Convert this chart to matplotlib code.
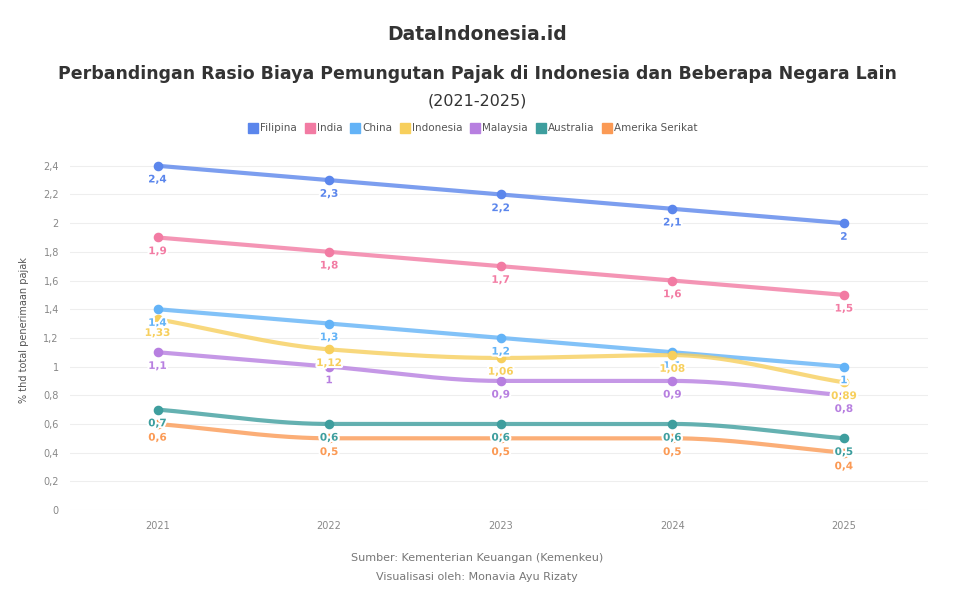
import matplotlib
matplotlib.use("Agg")
import matplotlib.pyplot as plt
import matplotlib.patheffects as pe
from matplotlib.lines import Line2D
import numpy as np

years = [2021, 2022, 2023, 2024, 2025]
names = ["Filipina", "India", "China", "Indonesia", "Malaysia", "Australia", "Amerika Serikat"]
filipina = [2.4, 2.3, 2.2, 2.1, 2.0]
india = [1.9, 1.8, 1.7, 1.6, 1.5]
china = [1.4, 1.3, 1.2, 1.1, 1.0]
indonesia = [1.33, 1.12, 1.06, 1.08, 0.89]
malaysia = [1.1, 1.0, 0.9, 0.9, 0.8]
australia = [0.7, 0.6, 0.6, 0.6, 0.5]
amerika = [0.6, 0.5, 0.5, 0.5, 0.4]
series = [filipina, india, china, indonesia, malaysia, australia, amerika]
colors = ["#5b86ec", "#f27ba3", "#63b3f7", "#f7cf5c", "#b77fe0", "#3e9e9e", "#fb9a55"]
yticks = [0, 0.2, 0.4, 0.6, 0.8, 1, 1.2, 1.4, 1.6, 1.8, 2, 2.2, 2.4]

def fmt(v):
    s = f"{v:.2f}".rstrip("0").rstrip(".")
    return s.replace(".", ",")

def pchip(x, y, n=200):
    x = np.asarray(x, float); y = np.asarray(y, float)
    h = np.diff(x); d = np.diff(y) / h
    m = np.zeros_like(y)
    m[0], m[-1] = d[0], d[-1]
    for i in range(1, len(y) - 1):
        if d[i-1] * d[i] > 0:
            m[i] = 2 / (1/d[i-1] + 1/d[i])
    xs = np.linspace(x[0], x[-1], n); ys = np.empty_like(xs)
    for j, xv in enumerate(xs):
        i = min(np.searchsorted(x, xv, side="right") - 1, len(x) - 2)
        t = (xv - x[i]) / h[i]
        ys[j] = ((2*t**3-3*t**2+1)*y[i] + (t**3-2*t**2+t)*h[i]*m[i]
                 + (-2*t**3+3*t**2)*y[i+1] + (t**3-t**2)*h[i]*m[i+1])
    return xs, ys

fig = plt.figure(figsize=(9.54, 5.96), dpi=100)
ax = fig.add_axes([70/954, 1-510/596, 858/954, (510-150)/596])
for name, vals, c in zip(names, series, colors):
    xs, ys = pchip(years, vals)
    ax.plot(xs, ys, color=c, lw=3, alpha=0.8, solid_capstyle="round")
    ax.scatter(years, vals, color=c, s=35, zorder=3)
    for x, v in zip(years, vals):
        ax.annotate(fmt(v), (x, v), xytext=(0, -12), textcoords="offset points",
                    ha="center", fontsize=7.5, color=c, fontweight="bold",
                    path_effects=[pe.withStroke(linewidth=3, foreground="white")], zorder=4)
ax.set_xlim(2020.49, 2025.49)
ax.set_ylim(0, 2.51)
ax.set_xticks(years)
ax.set_xticklabels([str(y) for y in years], fontsize=7, color="#888")
ax.set_yticks(yticks)
ax.set_yticklabels([fmt(t) for t in yticks], fontsize=7, color="#888")
ax.grid(axis="y", color="#eeeeee", lw=0.8)
for s in ax.spines.values():
    s.set_visible(False)
ax.tick_params(length=0, pad=8)
ax.set_ylabel("% thd total penerimaan pajak", fontsize=7, color="#555", labelpad=10)
handles = [Line2D([], [], marker="s", ls="", color=c, markersize=7) for c in colors]
ax.legend(handles, names, loc="upper center", bbox_to_anchor=(0.47, 1.1), ncol=7, frameon=False,
          fontsize=7.5, handlelength=0.8, columnspacing=0.8, handletextpad=0.3, labelcolor="#555")

fig.text(0.5, 1-35/596, "DataIndonesia.id", ha="center", va="center", fontsize=13.5, fontweight="bold", color="#333")
fig.text(0.5, 1-74/596, "Perbandingan Rasio Biaya Pemungutan Pajak di Indonesia dan Beberapa Negara Lain",
         ha="center", va="center", fontsize=12.5, fontweight="bold", color="#333")
fig.text(0.5, 1-101/596, "(2021-2025)", ha="center", va="center", fontsize=11.5, color="#333")
fig.text(0.5, 1-558/596, "Sumber: Kementerian Keuangan (Kemenkeu)", ha="center", va="center", fontsize=8, color="#777")
fig.text(0.5, 1-577/596, "Visualisasi oleh: Monavia Ayu Rizaty", ha="center", va="center", fontsize=8, color="#777")
fig.savefig("out.png", dpi=100)
